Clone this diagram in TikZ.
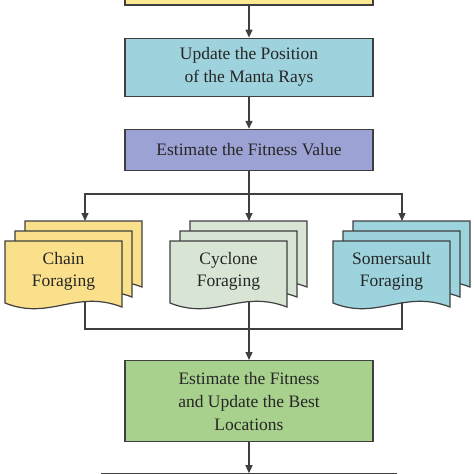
\documentclass[tikz,border=0pt]{standalone}
\usepackage{fontspec}
\setmainfont{Liberation Serif}
\usepackage{tikz}
\usetikzlibrary{positioning,arrows.meta}
\definecolor{edgegrey}{HTML}{3F3F3F}
\definecolor{inkgrey}{HTML}{262626}
\definecolor{startyellow}{HTML}{FDE98F}
\definecolor{mantablue}{HTML}{9ED2DC}
\definecolor{fitpurple}{HTML}{9DA2D4}
\definecolor{chainyellow}{HTML}{FBE08C}
\definecolor{cyclonegreen}{HTML}{D8E5D5}
\definecolor{somerteal}{HTML}{9CD3DC}
\definecolor{bestgreen}{HTML}{A9D18E}
\definecolor{endorange}{HTML}{F9B47D}
\tikzset{
  proc/.style={draw=edgegrey, line width=1.2pt, minimum width=248pt,
    align=center, text=inkgrey, font=\fontsize{17.5}{23}\selectfont},
  page/.style={draw=edgegrey, line width=1.2pt},
  doctext/.style={align=center, text=inkgrey, font=\fontsize{17.5}{22}\selectfont}}
\newcommand\foragedoc[2]{%
  \foreach \d in {20,10,0}
    \filldraw[page, fill=#2, shift={#1}, shift={(\d,\d)}]
      (0,0) -- (117,0) -- (117,-66) .. controls (70,-48) and (45,-80) .. (0,-62) -- cycle;}

\begin{document}
\begin{tikzpicture}[x=1pt, y=1pt, line width=1.2pt, draw=edgegrey,
    >={Triangle[length=8pt,width=7pt]}]
  \useasboundingbox (0,0) rectangle (474,-474);
  \node[proc, fill=startyellow, minimum height=40pt] (start) at (249,15) {};
  \node[proc, fill=mantablue, minimum height=58pt] (upd) [below=32pt of start]
    {Update the Position\\of the Manta Rays};
  \node[proc, fill=fitpurple, minimum height=41pt] (est) [below=32pt of upd]
    {Estimate the Fitness Value};
  \node[proc, fill=bestgreen, minimum height=81pt] (best) [below=189pt of est]
    {Estimate the Fitness\\and Update the Best\\Locations};
  \node[proc, fill=endorange, minimum width=294pt, minimum height=40pt] (final)
    [below=31pt of best] {};

  \foragedoc{(5,-241)}{chainyellow}
  \foragedoc{(170,-241)}{cyclonegreen}
  \foragedoc{(333,-241)}{somerteal}
  \node[doctext] (chain) at (63.5,-271) {Chain\\Foraging};
  \node[doctext] (cyclone) at (228.5,-271) {Cyclone\\Foraging};
  \node[doctext] (somer) at (391.5,-271) {Somersault\\Foraging};

  \coordinate (split) at (249,-194);
  \coordinate (join) at (249,-329);
  \coordinate (chain in) at (85,-221);
  \coordinate (cyclone in) at (249,-221);
  \coordinate (somer in) at (402,-221);
  \coordinate (chain out) at (85,-302);
  \coordinate (cyclone out) at (249,-302);
  \coordinate (somer out) at (402,-302);

  \draw[->] (start) -- (upd);
  \draw[->] (upd) -- (est);
  \draw (est) -- (split);
  \draw[->] (split) -| (chain in);
  \draw[->] (split) -- (cyclone in);
  \draw[->] (split) -| (somer in);
  \draw (chain out) |- (join);
  \draw (somer out) |- (join);
  \draw (cyclone out) -- (join);
  \draw[->] (join) -- (best);
  \draw[->] (best) -- (final);
\end{tikzpicture}
\end{document}
